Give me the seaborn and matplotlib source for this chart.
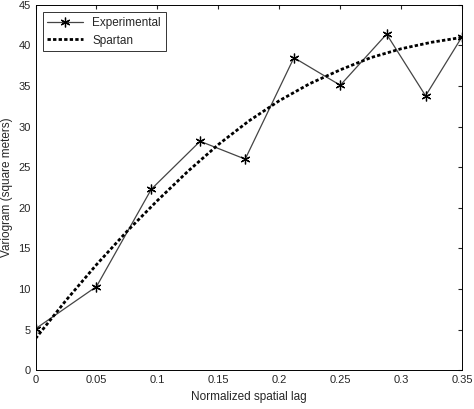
import matplotlib
matplotlib.use("Agg")
import matplotlib.pyplot as plt
import seaborn as sns

sns.set_style("white")
plt.rcParams['font.family'] = ['Liberation Sans', 'DejaVu Sans']

exp_lag = [0, 0.05, 0.095, 0.135, 0.172, 0.212, 0.25, 0.288, 0.32, 0.35]
exp_var = [5.1, 10.3, 22.3, 28.2, 26.0, 38.5, 35.1, 41.4, 33.8, 41.1]
sp_lag = [0, 0.025, 0.05, 0.075, 0.1, 0.125, 0.15, 0.175, 0.2, 0.225, 0.25, 0.275, 0.3, 0.325, 0.35]
sp_var = [3.9, 8.6, 13.0, 17.1, 20.9, 24.5, 27.8, 30.7, 33.2, 35.3, 37.0, 38.5, 39.6, 40.4, 41.0]

fig, ax = plt.subplots(figsize=(4.74, 4.09), dpi=100)
fig.subplots_adjust(left=0.075, right=0.975, bottom=0.095, top=0.988)
sns.lineplot(x=exp_lag, y=exp_var, ax=ax, color='#444444', lw=0.9, marker=(6, 2, 0),
             markersize=7, markeredgewidth=0.9, markeredgecolor='black', markerfacecolor='black',
             label='Experimental')
sns.lineplot(x=sp_lag, y=sp_var, ax=ax, color='black', lw=2, linestyle=(0, (1.2, 0.8)), label='Spartan')
ax.set_xlim(0, 0.35)
ax.set_ylim(0, 45)
ax.set_xticks([0, 0.05, 0.1, 0.15, 0.2, 0.25, 0.3, 0.35])
ax.set_xticklabels(['0', '0.05', '0.1', '0.15', '0.2', '0.25', '0.3', '0.35'])
ax.set_yticks(range(0, 46, 5))
ax.tick_params(labelsize=8, direction='in', length=3, top=True, right=True)
ax.set_xlabel('Normalized spatial lag', fontsize=8.5)
ax.set_ylabel('Variogram (square meters)', fontsize=8.5)
for s in ax.spines.values():
    s.set_color('black'); s.set_linewidth(0.7)
leg = ax.legend(loc='upper left', fontsize=8.5, frameon=True, fancybox=False, edgecolor='black',
                borderaxespad=0.6, handlelength=3)
leg.get_frame().set_linewidth(0.7)
fig.savefig('out.png', dpi=100)
